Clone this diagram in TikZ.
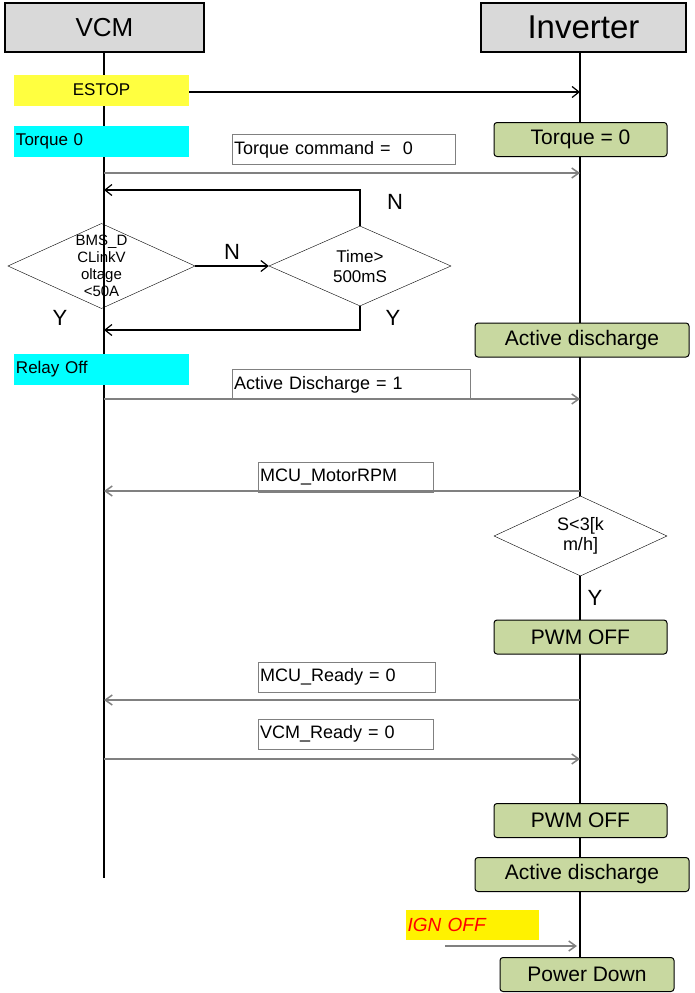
\documentclass[tikz,border=0pt]{standalone}
\usepackage{fontspec}
\setmainfont{Liberation Sans}
\usetikzlibrary{shapes.geometric,arrows.meta}
\definecolor{grn}{RGB}{200,216,160}
\definecolor{hdr}{RGB}{217,217,217}
\definecolor{cy}{RGB}{0,255,255}
\definecolor{ye}{RGB}{255,255,64}
\definecolor{gar}{RGB}{128,128,128}
\begin{document}
\begin{tikzpicture}[x=1pt,y=-1pt,
 hdrbox/.style={draw,line width=1.5pt,fill=hdr,minimum width=#1,minimum height=49,inner sep=0},
 act/.style={draw,line width=1pt,rounded corners=3,fill=grn,minimum height=34,inner sep=0,font=\fontsize{21}{23}\selectfont},
 flag/.style={fill=#1,minimum height=31,inner sep=2pt,font=\fontsize{17}{19}\selectfont},
 lbl/.style={draw=gar,fill=white,minimum height=30,inner sep=2pt,anchor=west,align=left,font=\fontsize{18}{20}\selectfont},
 dia/.style={draw,diamond,aspect=2.2,inner sep=0,align=center,font=\fontsize{15}{17}\selectfont},
 ga/.style={draw=gar,line width=1.5pt,-{Straight Barb[length=7pt,width=10pt]}},
 ba/.style={draw,line width=1.2pt,-{Straight Barb[length=7pt,width=11pt]}},
 big/.style={font=\fontsize{22}{24}\selectfont}]
\useasboundingbox (0,0) rectangle (694,993);
% lifelines
\coordinate (v0) at (104,52); \coordinate (v1) at (104,878);
\coordinate (i0) at (580,52); \coordinate (i1) at (580,958);
\draw[line width=2pt] (v0) -- (v1);
\draw[line width=2pt] (i0) -- (i1);
\node[hdrbox=199] (vcm) at (104.5,27.5) {\fontsize{26}{28}\selectfont VCM};
\node[hdrbox=205] (inv) at (583.5,27.5) {\fontsize{33}{35}\selectfont Inverter};
% ESTOP
\node[flag=ye,minimum width=175] (estop) at (101.5,90) {ESTOP};
\coordinate (e1) at (580,92);
\draw[ba] (estop.east |- e1) -- (e1);
% Torque
\node[flag=cy,minimum width=175,text width=171,align=left] (tq0) at (101.5,141) {Torque 0};
\node[act,minimum width=173] (tq) at (580.5,139.5) {Torque = 0};
\node[lbl,minimum width=223,text width=219] (tcl) at (232,149.5) {Torque command =~~0};
\coordinate (a1s) at (104,173); \coordinate (a1e) at (580,173);
\draw[ga] (a1s) -- (a1e);
% diamonds
\node[dia,minimum width=173,minimum height=80] (d1) at (101.5,266) {BMS\_D\\CLinkV\\oltage\\<50A};
\node[dia,minimum width=182,minimum height=80,font=\fontsize{17}{20}\selectfont] (d2) at (360,266) {Time>\\500mS};
\draw[ba] (d1.east) -- (d2.west) node[midway,above=3pt,big] {N};
\coordinate (lp1) at (104,190); \coordinate (lp2) at (104,330);
\draw[ba] (d2.north) |- (lp1);
\draw[ba] (d2.south) |- (lp2);
\node[big] (n2) at (395,202) {N};
\node[big] (y1) at (60,318) {Y};
\node[big] (y2) at (393,318) {Y};
\node[act,minimum width=214] (ad1) at (582,340) {Active discharge};
% Relay off
\node[flag=cy,minimum width=175,text width=171,align=left] (ro) at (101.5,369) {Relay Off};
\node[lbl,minimum width=238,text width=234] (adl) at (232,384.5) {Active Discharge = 1};
\coordinate (a2s) at (104,399); \coordinate (a2e) at (580,399);
\draw[ga] (a2s) -- (a2e);
% RPM
\node[lbl,minimum width=175,text width=171] (rpm) at (258,477) {MCU\_MotorRPM};
\coordinate (a3s) at (580,491); \coordinate (a3e) at (104,491);
\draw[ga] (a3s) -- (a3e);
\node[dia,fill=white,minimum width=173,minimum height=80,font=\fontsize{18}{20}\selectfont] (d3) at (580.5,536) {S<3[k\\m/h]};
\node[big] (y3) at (595,598) {Y};
\node[act,minimum width=173] (pwm1) at (580.5,637) {PWM OFF};
% ready
\node[lbl,minimum width=177,text width=173] (mr) at (258,677) {MCU\_Ready = 0};
\coordinate (a4s) at (580,700); \coordinate (a4e) at (104,700);
\draw[ga] (a4s) -- (a4e);
\node[lbl,minimum width=175,text width=171] (vr) at (258,734) {VCM\_Ready = 0};
\coordinate (a5s) at (104,759); \coordinate (a5e) at (580,759);
\draw[ga] (a5s) -- (a5e);
\node[act,minimum width=173] (pwm2) at (580.5,820.5) {PWM OFF};
\node[act,minimum width=214] (ad2) at (582,874.5) {Active discharge};
\node[fill=yellow,minimum width=133,minimum height=30,inner sep=2pt,text width=129,align=left,text=red,font=\fontsize{19}{21}\selectfont\itshape] (ign) at (472,925) {IGN OFF};
\coordinate (a6s) at (445,946); \coordinate (a6e) at (577,946);
\draw[ga] (a6s) -- (a6e);
\node[act,minimum width=174] (pd) at (587,974.5) {Power Down};
\end{tikzpicture}
\end{document}
